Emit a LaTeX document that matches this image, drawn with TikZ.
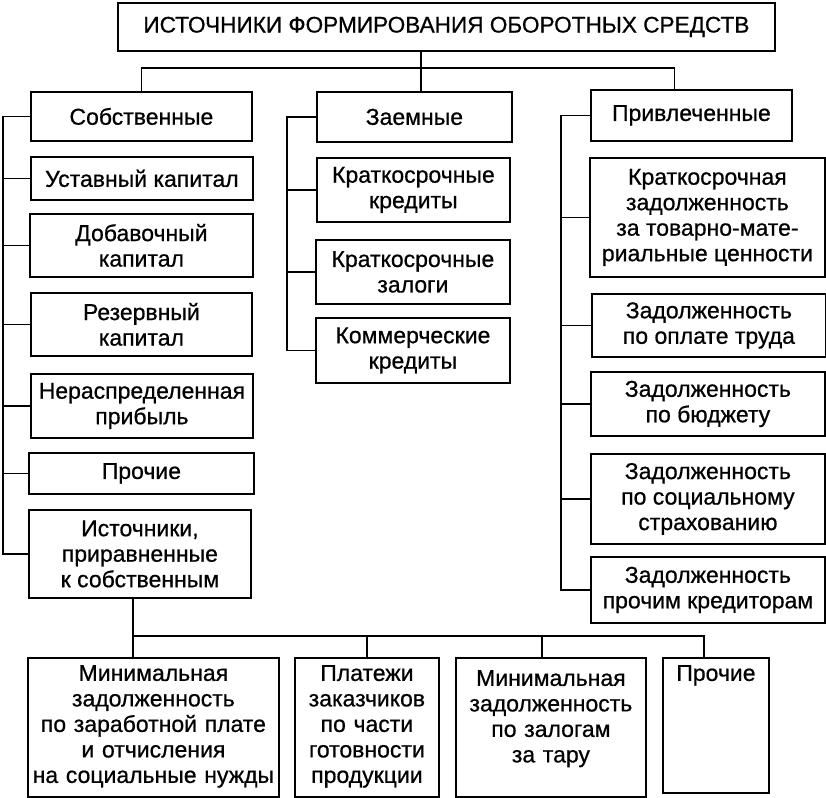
\documentclass[tikz,border=0pt]{standalone}
\usepackage{fontspec}
\setmainfont{Liberation Sans}[RawFeature={embolden=0.7}]
\usepackage{tikz}
\tikzset{
    box/.style={draw, line width=1.8pt, anchor=north west, align=center,
        inner sep=2pt, font=\fontsize{23}{25.5}\selectfont},
    lowbox/.style={box, text height=21pt, text depth=#1, inner ysep=2pt},
    link/.style={line width=1.8pt}
}

\begin{document}
\begin{tikzpicture}[x=1pt, y=-1pt]
    \useasboundingbox (0,0) rectangle (826,797);
    % top
    \node[box, minimum width=657pt, minimum height=48pt, font=\fontsize{22.6}{24}\selectfont]
        (title) at (117,2) {ИСТОЧНИКИ ФОРМИРОВАНИЯ ОБОРОТНЫХ СРЕДСТВ};
    % own sources
    \node[box, minimum width=221pt, minimum height=49pt] (sob) at (30,91) {Собственные};
    \node[box, minimum width=222pt, minimum height=43pt] (ust) at (30,156) {Уставный капитал};
    \node[box, minimum width=223pt, minimum height=63pt] (dob) at (29,213) {Добавочный\\капитал};
    \node[box, minimum width=221pt, minimum height=63pt] (rez) at (30,292) {Резервный\\капитал};
    \node[box, minimum width=222pt, minimum height=64pt] (ner) at (30,373) {Нераспределенная\\прибыль};
    \node[box, minimum width=225pt, minimum height=41pt] (pro) at (28,452) {Прочие};
    \node[box, minimum width=222pt, minimum height=88pt] (ist) at (28,509) {Источники,\\приравненные\\к собственным};
    % borrowed
    \node[box, minimum width=195pt, minimum height=50pt] (zaem) at (316,91) {Заемные};
    \node[box, minimum width=193pt, minimum height=64pt] (kk) at (316,157) {Краткосрочные\\кредиты};
    \node[box, minimum width=194pt, minimum height=64pt] (kz) at (315,239) {Краткосрочные\\залоги};
    \node[box, minimum width=194pt, minimum height=65pt] (km) at (315,317) {Коммерческие\\кредиты};
    % attracted
    \node[box, minimum width=201pt, minimum height=51pt] (priv) at (590,89) {Привлеченные};
    \node[box, minimum width=235pt, minimum height=119pt] (pz) at (589,157)
        {Краткосрочная\\задолженность\\за товарно-мате-\\риальные ценности};
    \node[box, minimum width=234pt, minimum height=63pt] (pt) at (591,293) {Задолженность\\по оплате труда};
    \node[box, minimum width=234pt, minimum height=64pt] (pb) at (590,371) {Задолженность\\по бюджету};
    \node[box, minimum width=234pt, minimum height=90pt] (ps) at (590,453)
        {Задолженность\\по социальному\\страхованию};
    \node[box, minimum width=234pt, minimum height=66pt] (pk) at (590,556) {Задолженность\\прочим кредиторам};
    % equal to own
    \node[lowbox=114pt, text width=247pt] (b1) at (27,657)
        {Минимальная\\задолженность\\по заработной плате\\и отчисления\\на социальные нужды};
    \node[lowbox=114pt, text width=140pt] (b2) at (294,657)
        {Платежи\\заказчиков\\по части\\готовности\\продукции};
    \node[lowbox=109pt, text width=186pt, text height=26pt] (b3) at (455,657)
        {Минимальная\\задолженность\\по залогам\\за тару};
    \node[lowbox=110pt, text width=102pt] (b4) at (662,657) {Прочие};

    \coordinate (hub) at (421,68);
    \draw[link] (title.south -| hub) -- (zaem.north -| hub);
    \draw[link] (sob.north) |- (hub) -| ([xshift=-17pt]priv.north);

    \coordinate (lsp) at (3,0);
    \draw[link] (sob.west) -- (sob.west -| lsp) |- (ist.west);
    \foreach \n in {ust,dob,rez,ner,pro}
        \draw[link] (\n.west) -- (\n.west -| lsp);

    \coordinate (msp) at (287,0);
    \draw[link] (zaem.west) -- (zaem.west -| msp) |- (km.west);
    \foreach \n in {kk,kz}
        \draw[link] (\n.west) -- (\n.west -| msp);

    \coordinate (rsp) at (561,0);
    \draw[link] (priv.west) -- (priv.west -| rsp) |- (pk.west);
    \foreach \n in {pz,pt,pb,ps}
        \draw[link] (\n.west) -- (\n.west -| rsp);

    \coordinate (bus) at (133,636);
    \coordinate (d3) at (542,636);
    \coordinate (d4) at (704,636);
    \draw[link] (ist.south -| bus) -- (bus) -- (bus |- b1.north);
    \draw[link] (bus) -- (d4) -- (d4 |- b4.north);
    \draw[link] (b2.north |- bus) -- (b2.north);
    \draw[link] (d3) -- (d3 |- b3.north);
\end{tikzpicture}
\end{document}
